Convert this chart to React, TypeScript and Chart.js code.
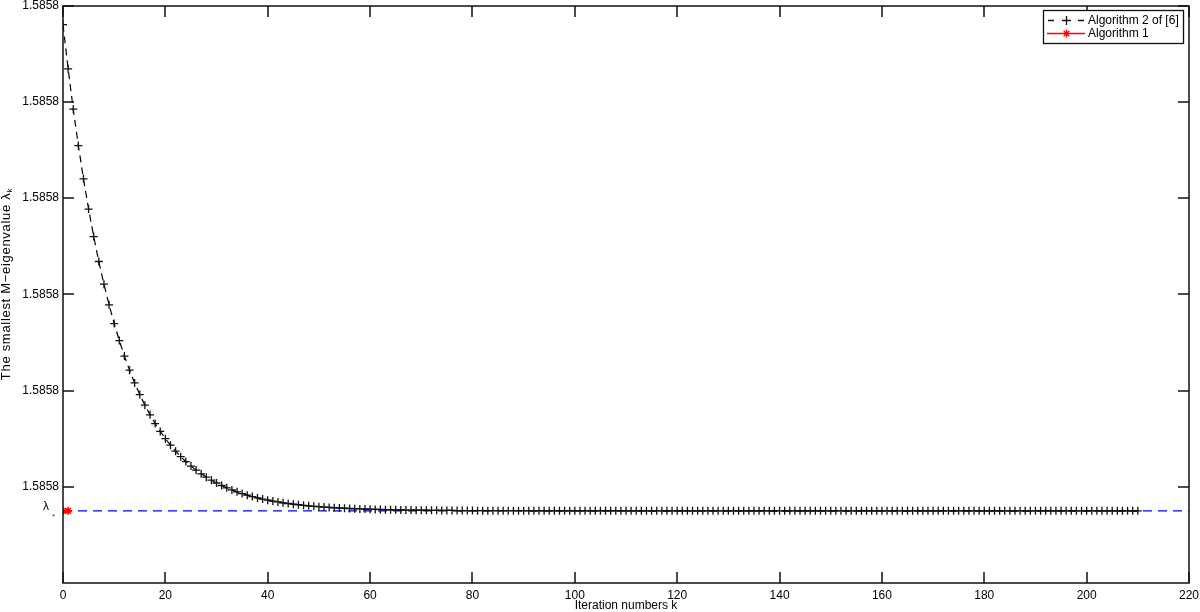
import React, { useEffect, useRef } from 'react';
import { Chart, registerables } from 'chart.js';

Chart.register(...registerables);

// Values are expressed in tick-interval units above the lowest (unlabelled) y limit.
// Algorithm 2 of [6], iterations k = 0..210
const ALG2_VALUES = [
  5.803, 5.343, 4.925, 4.545, 4.2, 3.886, 3.6, 3.341, 3.105, 2.891,
  2.696, 2.519, 2.358, 2.212, 2.079, 1.958, 1.848, 1.748, 1.657, 1.575,
  1.5, 1.432, 1.37, 1.313, 1.262, 1.215, 1.173, 1.135, 1.1, 1.068,
  1.039, 1.013, 0.989, 0.967, 0.947, 0.929, 0.913, 0.898, 0.884, 0.872,
  0.861, 0.851, 0.842, 0.833, 0.826, 0.819, 0.813, 0.807, 0.802, 0.797,
  0.793, 0.789, 0.785, 0.782, 0.779, 0.777, 0.774, 0.772, 0.77, 0.768,
  0.767, 0.765, 0.764, 0.762, 0.761, 0.76, 0.759, 0.758, 0.758, 0.757,
  0.756, 0.756, 0.755, 0.755, 0.754, 0.754, 0.754, 0.753, 0.753, 0.753,
  0.753, 0.752, 0.752, 0.752, 0.752, 0.752, 0.752, 0.752, 0.752, 0.752,
  0.752, 0.751, 0.751, 0.751, 0.751, 0.751, 0.751, 0.751, 0.751, 0.751,
  0.751, 0.751, 0.751, 0.751, 0.751, 0.751, 0.751, 0.751, 0.751, 0.751,
  0.751, 0.75, 0.75, 0.75, 0.75, 0.75, 0.75, 0.75, 0.75, 0.75,
  0.75, 0.75, 0.75, 0.75, 0.75, 0.75, 0.75, 0.75, 0.75, 0.75,
  0.75, 0.75, 0.75, 0.75, 0.75, 0.75, 0.75, 0.75, 0.75, 0.75,
  0.75, 0.75, 0.75, 0.75, 0.75, 0.75, 0.75, 0.75, 0.75, 0.75,
  0.75, 0.75, 0.75, 0.75, 0.75, 0.75, 0.75, 0.75, 0.75, 0.75,
  0.75, 0.75, 0.75, 0.75, 0.75, 0.75, 0.75, 0.75, 0.75, 0.75,
  0.75, 0.75, 0.75, 0.75, 0.75, 0.75, 0.75, 0.75, 0.75, 0.75,
  0.75, 0.75, 0.75, 0.75, 0.75, 0.75, 0.75, 0.75, 0.75, 0.75,
  0.75, 0.75, 0.75, 0.75, 0.75, 0.75, 0.75, 0.75, 0.75, 0.75,
  0.75, 0.75, 0.75, 0.75, 0.75, 0.75, 0.75, 0.75, 0.75, 0.75,
  0.75,
];

// Algorithm 1
const ALG1_ITERATIONS = [0, 1];
const ALG1_VALUES = [0.75, 0.75];

// Reference level lambda_*
const LAMBDA_STAR = 0.75;
const LAMBDA_LINE_X = [0, 220];

const X_MIN = 0;
const X_MAX = 220;
const X_TICKS = [0, 20, 40, 60, 80, 100, 120, 140, 160, 180, 200, 220];
const Y_MIN = 0;
const Y_MAX = 6;
const Y_TICKS = [1, 2, 3, 4, 5, 6];
const Y_TICK_LABELS = ['1.5858', '1.5858', '1.5858', '1.5858', '1.5858', '1.5858'];

const SERIES_NAMES = ['Algorithm 2 of [6]', 'Algorithm 1'];
const X_TITLE = 'Iteration numbers k';
const Y_TITLE = 'The smallest M\u2212eigenvalue \u03bb';
const Y_TITLE_SUB = 'k';

const FONT = '"Liberation Sans", Arial, Helvetica, sans-serif';

const decorPlugin = {
  id: 'decor',
  afterDraw(chart: any) {
    const { ctx, chartArea: a, scales } = chart;
    const xs = scales.x;
    const ys = scales.y;
    const L = Math.round(a.left);
    const R = Math.round(a.right);
    const T = Math.round(a.top);
    const B = Math.round(a.bottom);
    ctx.save();
    ctx.strokeStyle = '#111';
    ctx.lineWidth = 1.5;
    ctx.setLineDash([]);
    ctx.strokeRect(L, T, R - L, B - T);
    const tl = 11;
    ctx.beginPath();
    X_TICKS.forEach((v) => {
      const px = Math.round(xs.getPixelForValue(v));
      ctx.moveTo(px, B);
      ctx.lineTo(px, B - tl);
      ctx.moveTo(px, T);
      ctx.lineTo(px, T + tl);
    });
    Y_TICKS.forEach((v) => {
      const py = Math.round(ys.getPixelForValue(v));
      ctx.moveTo(L, py);
      ctx.lineTo(L + tl, py);
      ctx.moveTo(R, py);
      ctx.lineTo(R - tl, py);
    });
    ctx.stroke();

    // lambda_* label
    const ly = ys.getPixelForValue(LAMBDA_STAR);
    ctx.fillStyle = '#000';
    ctx.font = `12px ${FONT}`;
    ctx.textAlign = 'left';
    ctx.textBaseline = 'middle';
    ctx.fillText('\u03bb', 43, ly - 4);
    ctx.fillStyle = '#444';
    ctx.font = `8px ${FONT}`;
    ctx.fillText('*', 52, ly + 6);

    // x title
    ctx.fillStyle = '#000';
    ctx.font = `12px ${FONT}`;
    ctx.textAlign = 'center';
    ctx.textBaseline = 'middle';
    ctx.fillText(X_TITLE, (a.left + a.right) / 2, 606);

    // y title (rotated)
    ctx.save();
    ctx.translate(6, 284);
    ctx.rotate(-Math.PI / 2);
    (ctx as any).letterSpacing = '0.7px';
    ctx.font = `13px ${FONT}`;
    const w1 = ctx.measureText(Y_TITLE).width;
    ctx.font = `8px ${FONT}`;
    const w2 = ctx.measureText(Y_TITLE_SUB).width;
    const start = -(w1 + w2) / 2;
    ctx.textAlign = 'left';
    ctx.font = `13px ${FONT}`;
    ctx.fillText(Y_TITLE, start, 0);
    ctx.font = `8px ${FONT}`;
    ctx.fillText(Y_TITLE_SUB, start + w1, 4);
    ctx.restore();

    // legend
    const bx = 1043.5, by = 10.5, bw = 140, bh = 33;
    ctx.fillStyle = '#fff';
    ctx.fillRect(bx, by, bw, bh);
    ctx.strokeStyle = '#111';
    ctx.lineWidth = 1.3;
    ctx.strokeRect(bx, by, bw, bh);
    const r1 = 20.5, r2 = 33.5;
    // row 1: dashed black with plus
    ctx.lineWidth = 1.3;
    ctx.beginPath();
    ctx.setLineDash([6, 24]);
    ctx.moveTo(1048, r1);
    ctx.lineTo(1085, r1);
    ctx.stroke();
    ctx.setLineDash([]);
    ctx.beginPath();
    ctx.moveTo(1062, r1);
    ctx.lineTo(1071, r1);
    ctx.moveTo(1066.5, r1 - 4.5);
    ctx.lineTo(1066.5, r1 + 4.5);
    ctx.stroke();
    // row 2: red solid with star
    ctx.strokeStyle = '#ff0000';
    ctx.beginPath();
    ctx.moveTo(1047, r2);
    ctx.lineTo(1085, r2);
    const sr = 4;
    const cx = 1066.5;
    ctx.moveTo(cx - sr, r2);
    ctx.lineTo(cx + sr, r2);
    ctx.moveTo(cx, r2 - sr);
    ctx.lineTo(cx, r2 + sr);
    const d = sr * 0.707;
    ctx.moveTo(cx - d, r2 - d);
    ctx.lineTo(cx + d, r2 + d);
    ctx.moveTo(cx - d, r2 + d);
    ctx.lineTo(cx + d, r2 - d);
    ctx.stroke();
    ctx.fillStyle = '#000';
    ctx.font = `12px ${FONT}`;
    ctx.textAlign = 'left';
    ctx.textBaseline = 'middle';
    ctx.fillText(SERIES_NAMES[0], 1088, r1);
    ctx.fillText(SERIES_NAMES[1], 1088, r2);
    ctx.restore();
  },
};

export default function App() {
  const ref = useRef<HTMLCanvasElement | null>(null);
  useEffect(() => {
    if (!ref.current) return;
    const chart = new Chart(ref.current, {
      type: 'line',
      data: {
        datasets: [
          {
            label: SERIES_NAMES[0],
            data: ALG2_VALUES.map((v, i) => ({ x: i, y: v })),
            borderColor: '#000',
            borderWidth: 1.2,
            borderDash: [7, 5],
            pointStyle: 'cross',
            pointRadius: 4,
            pointBorderWidth: 1.3,
            pointBorderColor: '#111',
            pointBackgroundColor: '#111',
            tension: 0,
          },
          {
            label: SERIES_NAMES[1],
            data: ALG1_ITERATIONS.map((x, i) => ({ x, y: ALG1_VALUES[i] })),
            borderColor: '#ff0000',
            borderWidth: 1.5,
            pointStyle: 'star',
            pointRadius: 4,
            pointBorderWidth: 1.6,
            pointBorderColor: '#ff0000',
            pointBackgroundColor: '#ff0000',
          },
          {
            label: 'lambda*',
            data: LAMBDA_LINE_X.map((x) => ({ x, y: LAMBDA_STAR })),
            borderColor: '#0000ff',
            borderWidth: 1.2,
            borderDash: [9, 6],
            pointRadius: 0,
          },
        ],
      },
      options: {
        animation: false,
        responsive: false,
        maintainAspectRatio: false,
        layout: { padding: { left: 0, top: 3, right: 11, bottom: 0 } },
        plugins: {
          legend: { display: false },
          tooltip: { enabled: false },
          title: { display: false },
        },
        scales: {
          x: {
            type: 'linear',
            min: X_MIN,
            max: X_MAX,
            grid: { display: false, drawTicks: false },
            border: { display: false },
            afterBuildTicks: (s: any) => {
              s.ticks = X_TICKS.map((v) => ({ value: v }));
            },
            ticks: {
              autoSkip: false,
              maxRotation: 0,
              padding: 5,
              color: '#000',
              font: { family: FONT, size: 12 },
              callback: (v: any) => String(v),
            },
            afterFit: (s: any) => {
              s.height = 29;
              s.paddingLeft = 0;
              s.paddingRight = 0;
            },
          },
          y: {
            type: 'linear',
            min: Y_MIN,
            max: Y_MAX,
            grid: { display: false, drawTicks: false },
            border: { display: false },
            afterBuildTicks: (s: any) => {
              s.ticks = Y_TICKS.map((v) => ({ value: v }));
            },
            ticks: {
              autoSkip: false,
              padding: 4,
              color: '#000',
              font: { family: FONT, size: 12 },
              callback: (v: any) => {
                const i = Y_TICKS.indexOf(Number(v));
                return i >= 0 ? Y_TICK_LABELS[i] : '';
              },
            },
            afterFit: (s: any) => {
              s.width = 63;
              s.paddingTop = 0;
              s.paddingBottom = 0;
            },
          },
        },
      },
      plugins: [decorPlugin],
    });
    return () => chart.destroy();
  }, []);
  return (
    <div style={{ position: 'absolute', left: 0, top: 0, width: 1200, height: 612, background: '#fff' }}>
      <canvas ref={ref} width={1200} height={612} style={{ display: 'block', width: 1200, height: 612 }} />
    </div>
  );
}
